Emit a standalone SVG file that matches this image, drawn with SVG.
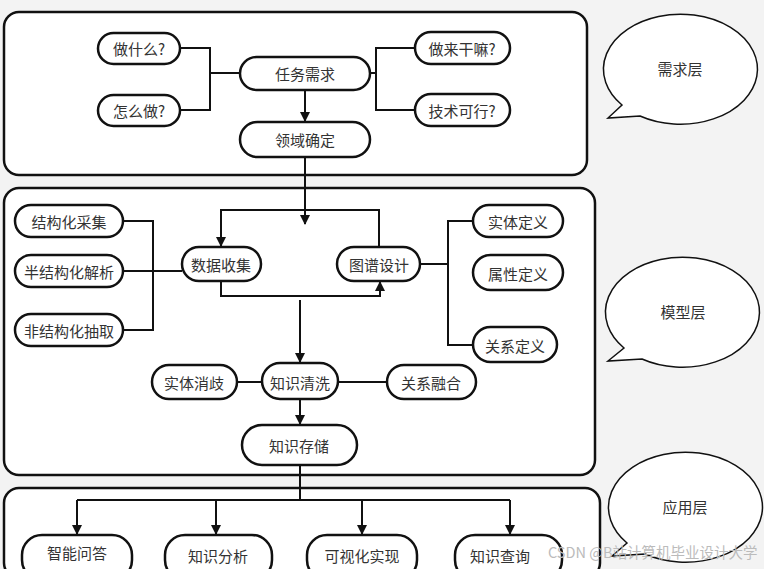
<svg xmlns="http://www.w3.org/2000/svg" width="764" height="569" viewBox="0 0 764 569">
<defs>
<marker id="ar" markerWidth="10" markerHeight="10" refX="9" refY="5" orient="auto" markerUnits="userSpaceOnUse"><path d="M0,0 L10,5 L0,10 z" fill="#111"/></marker>
<style>
.panel{fill:#fff;stroke:#111;stroke-width:2.5}
.n{fill:#fff;stroke:#111;stroke-width:2.5}
.t{font-family:"Noto Sans CJK SC","Noto Sans",sans-serif;font-size:15px;fill:#333;text-anchor:middle;dominant-baseline:central}
.c{fill:none;stroke:#111;stroke-width:2}
.b{fill:#fff;stroke:#111;stroke-width:1.5}
</style>
</defs>
<rect width="764" height="569" fill="#f3f3f3"/>
<rect class="panel" x="4" y="12" width="583" height="163" rx="15"/>
<rect class="panel" x="4" y="188" width="591" height="287" rx="15"/>
<rect class="panel" x="4" y="488" width="596" height="90" rx="15"/>
<g id="bubble1"><path class="b" d="M622,105 A77,55 0 1 1 640,116 L608,118 Z"/><text class="t" x="680" y="68">需求层</text></g>
<g id="bubble2"><path class="b" d="M624,348 A77,55 0 1 1 642,359 L608,361 Z"/><text class="t" x="683" y="311">模型层</text></g>
<g id="bubble3"><path class="b" d="M627,543 A77,55 0 1 1 645,554 L612,556 Z"/><text class="t" x="685" y="506">应用层</text></g>
<g id="connectors">
<path class="c" d="M180,48 H210 V110 H180 M210,73 H240 M370,73 H376 M415,48 H376 V110 H415"/>
<path class="c" d="M305,90 V121" marker-end="url(#ar)"/>
<path class="c" d="M305,157 V224" marker-end="url(#ar)"/>
<path class="c" d="M123,221 H153 V330 H123 M123,271 H182 M420,264 H448 M473,221 H448 V345 H473"/>
<path class="c" d="M379,247 V210 H221 V246" marker-end="url(#ar)"/>
<path class="c" d="M221,281 V296 H380 V282" marker-end="url(#ar)"/>
<path class="c" d="M300,300 V362" marker-end="url(#ar)"/>
<path class="c" d="M237,382 H262 M338,382 H387"/>
<path class="c" d="M300,399 V424" marker-end="url(#ar)"/>
<path class="c" d="M300,465 V500 M77,500 H510"/>
<path class="c" d="M77,500 V534" marker-end="url(#ar)"/>
<path class="c" d="M216,500 V534" marker-end="url(#ar)"/>
<path class="c" d="M362,500 V534" marker-end="url(#ar)"/>
<path class="c" d="M510,500 V534" marker-end="url(#ar)"/>
</g>
<g id="n1"><rect class="n" x="98" y="33" width="82" height="31" rx="15.5"/><text class="t" x="139" y="48">做什么?</text></g>
<g id="n2"><rect class="n" x="98" y="95" width="82" height="31" rx="15.5"/><text class="t" x="139" y="110">怎么做?</text></g>
<g id="n3"><rect class="n" x="240" y="57" width="130" height="33" rx="16.5"/><text class="t" x="305" y="73">任务需求</text></g>
<g id="n4"><rect class="n" x="240" y="122" width="130" height="35" rx="17.5"/><text class="t" x="305" y="139">领域确定</text></g>
<g id="n5"><rect class="n" x="415" y="32" width="95" height="32" rx="16"/><text class="t" x="462" y="48">做来干嘛?</text></g>
<g id="n6"><rect class="n" x="415" y="94" width="95" height="32" rx="16"/><text class="t" x="462" y="110">技术可行?</text></g>
<g id="n7"><rect class="n" x="15" y="205" width="108" height="32" rx="16"/><text class="t" x="69" y="221">结构化采集</text></g>
<g id="n8"><rect class="n" x="15" y="255" width="108" height="32" rx="16"/><text class="t" x="69" y="271">半结构化解析</text></g>
<g id="n9"><rect class="n" x="15" y="314" width="108" height="32" rx="16"/><text class="t" x="69" y="330">非结构化抽取</text></g>
<g id="n10"><rect class="n" x="182" y="247" width="79" height="34" rx="17"/><text class="t" x="221" y="264">数据收集</text></g>
<g id="n11"><rect class="n" x="337" y="247" width="83" height="34" rx="17"/><text class="t" x="379" y="264">图谱设计</text></g>
<g id="n12"><rect class="n" x="473" y="205" width="90" height="32" rx="16"/><text class="t" x="518" y="221">实体定义</text></g>
<g id="n13"><rect class="n" x="473" y="255" width="90" height="35" rx="17.5"/><text class="t" x="518" y="273">属性定义</text></g>
<g id="n14"><rect class="n" x="473" y="327" width="84" height="35" rx="17.5"/><text class="t" x="515" y="345">关系定义</text></g>
<g id="n15"><rect class="n" x="152" y="365" width="85" height="34" rx="17"/><text class="t" x="194" y="382">实体消歧</text></g>
<g id="n16"><rect class="n" x="262" y="363" width="76" height="36" rx="18"/><text class="t" x="300" y="382">知识清洗</text></g>
<g id="n17"><rect class="n" x="387" y="365" width="89" height="34" rx="17"/><text class="t" x="431" y="382">关系融合</text></g>
<g id="n18"><rect class="n" x="242" y="425" width="115" height="40" rx="20"/><text class="t" x="299" y="445">知识存储</text></g>
<g id="n19"><rect class="n" x="22" y="535" width="110" height="45" rx="20"/><text class="t" x="77" y="552">智能问答</text></g>
<g id="n20"><rect class="n" x="165" y="535" width="107" height="45" rx="20"/><text class="t" x="218" y="555">知识分析</text></g>
<g id="n21"><rect class="n" x="307" y="535" width="110" height="45" rx="20"/><text class="t" x="362" y="555">可视化实现</text></g>
<g id="n22"><rect class="n" x="455" y="535" width="107" height="45" rx="20"/><text class="t" x="500" y="555">知识查询</text></g>
<text x="548" y="558" style="font-family:'Noto Sans CJK SC',sans-serif;font-size:14.5px;fill:#bbb">CSDN @B站计算机毕业设计大学</text>
</svg>
